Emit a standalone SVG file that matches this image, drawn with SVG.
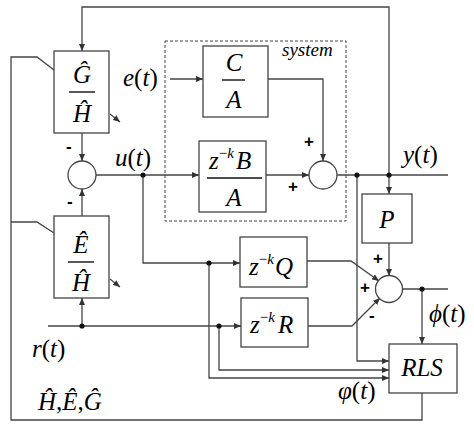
<svg xmlns="http://www.w3.org/2000/svg" width="474" height="439" viewBox="0 0 474 439">
<defs>
<marker id="ah" markerUnits="userSpaceOnUse" markerWidth="8" markerHeight="6" refX="7" refY="3" orient="auto">
<path d="M0,0 L7,3 L0,6 z" fill="#333"/>
</marker>
<style>
.ln{fill:none;stroke:#444;stroke-width:1.3}
.bx{fill:#fff;stroke:#444;stroke-width:1.3}
.ar{fill:none;stroke:#444;stroke-width:1.3;marker-end:url(#ah)}
.dot{fill:#111}
.fr{stroke:#111;stroke-width:1.4}
</style>
</defs>
<rect width="474" height="439" fill="#fff"/>
<g id="connectors">
<rect x="165" y="41" width="181" height="180" fill="none" stroke="#444" stroke-width="1" stroke-dasharray="3,2"/>
<path class="ar" d="M389,175 V7 H82 V51"/>
<path class="ar" d="M82,133 V161"/>
<path class="ar" d="M82,216 V189"/>
<path class="ar" d="M96,175 H199"/>
<path class="ar" d="M143,175 V263 H240"/>
<path class="ar" d="M209,263 V378 H389"/>
<path class="ar" d="M48,326 H241"/>
<path class="ar" d="M82,326 V298"/>
<path class="ar" d="M219,326 V370 H389"/>
<path class="ar" d="M357,175 V361 H389"/>
<path class="ar" d="M170,79 H203"/>
<path class="ar" d="M268,79 H323 V161"/>
<path class="ar" d="M266,175 H309"/>
<path class="ln" d="M337,175 H448"/>
<path class="ar" d="M389,175 V194"/>
<path class="ar" d="M389,243 V276"/>
<path class="ar" d="M307,261 H351 L379,281"/>
<path class="ar" d="M308,326 H352 L380,298"/>
<path class="ln" d="M402,289 H448"/>
<path class="ar" d="M422,289 V344"/>
<path class="ln" d="M422,393 V420 H11 V57 H37 L54,70"/>
<path class="ln" d="M11,222 H37 L54,233"/>
<path class="ar" d="M110,114 L120,122"/>
<path class="ar" d="M110,279 L120,287"/>
<circle class="dot" cx="143" cy="175" r="2.6"/>
<circle class="dot" cx="209" cy="263" r="2.6"/>
<circle class="dot" cx="82" cy="326" r="2.6"/>
<circle class="dot" cx="219" cy="326" r="2.6"/>
<circle class="dot" cx="357" cy="175" r="2.6"/>
<circle class="dot" cx="389" cy="175" r="2.6"/>
<circle class="dot" cx="422" cy="289" r="2.6"/>
</g>
<g id="GH"><rect class="bx" x="54" y="51" width="55" height="82"/>
<text x="82" y="83" text-anchor="middle" font-family="Liberation Serif" font-style="italic" font-size="25">Ĝ</text>
<line class="fr" x1="69" y1="92" x2="95" y2="92"/>
<text x="82" y="122" text-anchor="middle" font-family="Liberation Serif" font-style="italic" font-size="25">Ĥ</text></g>
<g id="EH"><rect class="bx" x="54" y="216" width="55" height="82"/>
<text x="81" y="253" text-anchor="middle" font-family="Liberation Serif" font-style="italic" font-size="25">Ê</text>
<line class="fr" x1="68" y1="262" x2="94" y2="262"/>
<text x="81" y="291" text-anchor="middle" font-family="Liberation Serif" font-style="italic" font-size="25">Ĥ</text></g>
<g id="CA"><rect class="bx" x="203" y="46" width="65" height="71"/>
<text x="234" y="71" text-anchor="middle" font-family="Liberation Serif" font-style="italic" font-size="25">C</text>
<line class="fr" x1="222" y1="80" x2="245" y2="80"/>
<text x="234" y="108" text-anchor="middle" font-family="Liberation Serif" font-style="italic" font-size="25">A</text></g>
<g id="BA"><rect class="bx" x="199" y="141" width="67" height="71"/>
<text x="209" y="169" font-family="Liberation Serif" font-style="italic" font-size="25">z<tspan font-size="15" dy="-11"><tspan font-style="normal">−</tspan>k</tspan><tspan dy="11" dx="2">B</tspan></text>
<line class="fr" x1="207" y1="178" x2="262" y2="178"/>
<text x="234" y="206" text-anchor="middle" font-family="Liberation Serif" font-style="italic" font-size="25">A</text></g>
<g id="P"><rect class="bx" x="362" y="194" width="50" height="49"/>
<text x="387" y="228" text-anchor="middle" font-family="Liberation Serif" font-style="italic" font-size="25">P</text></g>
<g id="Q"><rect class="bx" x="240" y="237" width="67" height="50"/>
<text x="249" y="275" font-family="Liberation Serif" font-style="italic" font-size="25">z<tspan font-size="15" dy="-11"><tspan font-style="normal">−</tspan>k</tspan><tspan dy="11" dx="1">Q</tspan></text></g>
<g id="R"><rect class="bx" x="241" y="298" width="67" height="49"/>
<text x="250" y="333" font-family="Liberation Serif" font-style="italic" font-size="25">z<tspan font-size="15" dy="-11"><tspan font-style="normal">−</tspan>k</tspan><tspan dy="11" dx="3">R</tspan></text></g>
<g id="RLS"><rect class="bx" x="389" y="344" width="68" height="49"/>
<text x="422" y="376" text-anchor="middle" font-family="Liberation Serif" font-style="italic" font-size="25">RLS</text></g>
<g id="labels" font-family="Liberation Serif" font-style="italic" font-size="25">
<text x="282" y="56" font-size="19">system</text>
<text x="123" y="86">e<tspan font-style="normal">(</tspan>t<tspan font-style="normal">)</tspan></text>
<text x="115" y="166">u<tspan font-style="normal">(</tspan>t<tspan font-style="normal">)</tspan></text>
<text x="403" y="163">y<tspan font-style="normal">(</tspan>t<tspan font-style="normal">)</tspan></text>
<text x="429" y="322">ϕ<tspan font-style="normal">(</tspan>t<tspan font-style="normal">)</tspan></text>
<text x="338" y="399">φ<tspan font-style="normal">(</tspan>t<tspan font-style="normal">)</tspan></text>
<text x="32" y="357">r<tspan font-style="normal">(</tspan>t<tspan font-style="normal">)</tspan></text>
<text x="38" y="410">Ĥ<tspan font-style="normal">,</tspan>Ê<tspan font-style="normal">,</tspan>Ĝ</text>
</g>
<g id="sum1"><circle class="bx" cx="82" cy="175" r="14"/>
<text x="66" y="152" font-family="Liberation Sans" font-weight="bold" font-size="17">-</text><text x="67" y="207" font-family="Liberation Sans" font-weight="bold" font-size="17">-</text></g>
<g id="sum2"><circle class="bx" cx="323" cy="175" r="14"/>
<text x="304" y="147" font-family="Liberation Sans" font-weight="bold" font-size="17">+</text><text x="288" y="192" font-family="Liberation Sans" font-weight="bold" font-size="17">+</text></g>
<g id="sum3"><circle class="bx" cx="389" cy="289" r="13.5"/>
<text x="373" y="264" font-family="Liberation Sans" font-weight="bold" font-size="17">+</text><text x="360" y="293" font-family="Liberation Sans" font-weight="bold" font-size="17">+</text><text x="369" y="321" font-family="Liberation Sans" font-weight="bold" font-size="17">-</text></g>
</svg>
